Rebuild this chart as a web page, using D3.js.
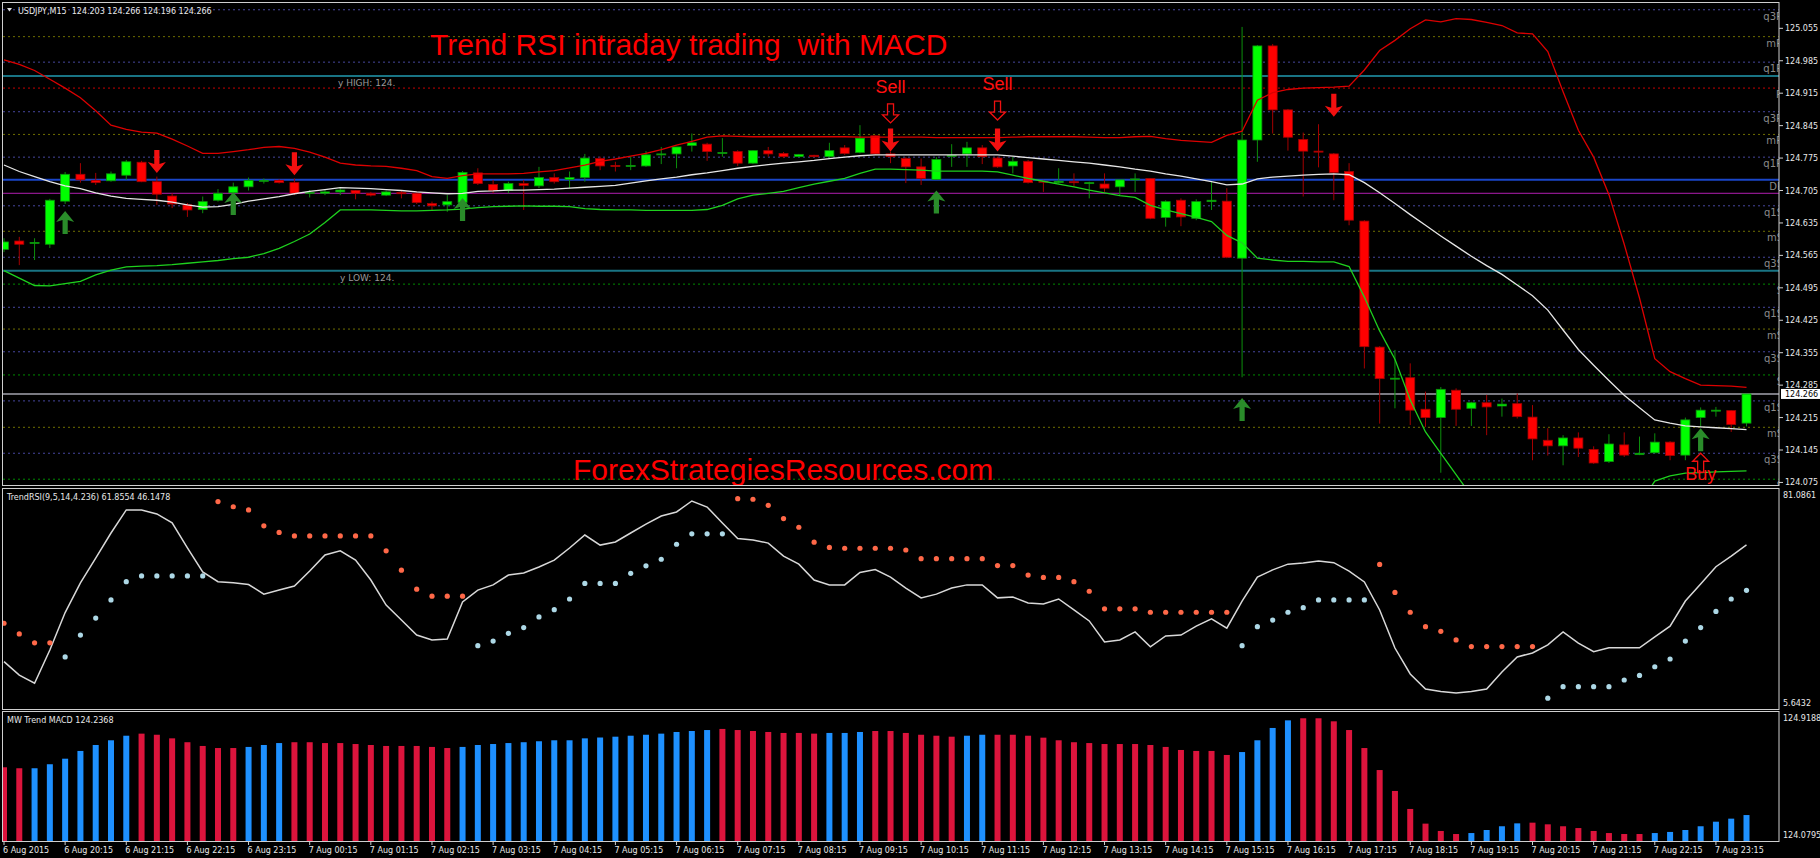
<!DOCTYPE html>
<html><head><meta charset="utf-8">
<script src="https://cdn.jsdelivr.net/npm/d3@7"></script>
<style>html,body{margin:0;padding:0;background:#000;overflow:hidden}</style>
</head><body>
<svg id="chart" width="1820" height="858"></svg>
<script>
// ---------------- DATA ----------------
const symbolTitle = "USDJPY,M15  124.203 124.266 124.196 124.266";
const chartTitle = "Trend RSI intraday trading  with MACD";
const watermark = "ForexStrategiesResources.com";
const rsiTitle = "TrendRSI(9,5,14,4.236) 61.8554 46.1478";
const macdTitle = "MW Trend MACD 124.2368";

const timeLabels = ["6 Aug 2015","6 Aug 20:15","6 Aug 21:15","6 Aug 22:15","6 Aug 23:15",
  "7 Aug 00:15","7 Aug 01:15","7 Aug 02:15","7 Aug 03:15","7 Aug 04:15","7 Aug 05:15","7 Aug 06:15",
  "7 Aug 07:15","7 Aug 08:15","7 Aug 09:15","7 Aug 10:15","7 Aug 11:15","7 Aug 12:15","7 Aug 13:15",
  "7 Aug 14:15","7 Aug 15:15","7 Aug 16:15","7 Aug 17:15","7 Aug 18:15","7 Aug 19:15","7 Aug 20:15",
  "7 Aug 21:15","7 Aug 22:15","7 Aug 23:15"];
const barsPerLabel = 4;

const priceTicks = [125.055,124.985,124.915,124.845,124.775,124.705,124.635,124.565,124.495,124.425,124.355,124.285,124.215,124.145,124.075];
const lastPrice = 124.266;
const rsiTicks = [81.0861, 5.6432];
const macdTicks = [124.9188, 124.0795];

const open = [124.578,124.596,124.591,124.589,124.682,124.740,124.727,124.726,124.738,124.766,
124.724,124.693,124.674,124.664,124.684,124.700,124.713,124.726,124.727,124.722,
124.700,124.699,124.702,124.705,124.699,124.695,124.701,124.699,124.677,124.674,
124.679,124.743,124.718,124.705,124.720,124.715,124.733,124.729,124.733,124.774,
124.759,124.757,124.758,124.783,124.784,124.802,124.805,124.786,124.789,124.764,
124.791,124.785,124.778,124.781,124.778,124.797,124.787,124.823,124.784,124.774,
124.756,124.729,124.780,124.784,124.797,124.775,124.758,124.768,124.725,124.722,
124.724,124.720,124.719,124.713,124.729,124.731,124.647,124.684,124.645,124.681,
124.682,124.559,124.814,125.017,124.879,124.815,124.790,124.784,124.746,124.639,
124.367,124.299,124.301,124.233,124.215,124.274,124.235,124.247,124.240,124.245,
124.216,124.166,124.154,124.171,124.146,124.120,124.156,124.135,124.139,124.162,
124.134,124.215,124.230,124.230,124.203];
const high = [124.602,124.605,124.602,124.687,124.745,124.764,124.743,124.746,124.771,124.769,
124.735,124.699,124.678,124.692,124.708,124.722,124.733,124.731,124.729,124.731,
124.706,124.706,124.710,124.706,124.702,124.705,124.706,124.702,124.681,124.695,
124.747,124.753,124.728,124.724,124.728,124.756,124.742,124.746,124.784,124.778,
124.767,124.778,124.790,124.799,124.799,124.828,124.808,124.818,124.792,124.792,
124.799,124.788,124.784,124.782,124.808,124.803,124.846,124.824,124.789,124.777,
124.774,124.777,124.805,124.810,124.803,124.778,124.778,124.771,124.728,124.753,
124.742,124.724,124.742,124.728,124.742,124.732,124.684,124.688,124.686,124.724,
124.710,125.058,125.019,125.021,124.881,124.830,124.848,124.786,124.764,124.641,
124.369,124.361,124.332,124.271,124.281,124.278,124.249,124.264,124.256,124.267,
124.242,124.192,124.177,124.183,124.153,124.179,124.183,124.174,124.181,124.164,
124.215,124.237,124.238,124.231,124.266];
const low = [124.572,124.544,124.555,124.581,124.676,124.722,124.717,124.724,124.728,124.723,
124.674,124.667,124.648,124.656,124.681,124.692,124.705,124.720,124.720,124.695,
124.690,124.695,124.695,124.686,124.692,124.693,124.688,124.676,124.663,124.659,
124.674,124.717,124.699,124.699,124.663,124.710,124.720,124.710,124.724,124.749,
124.746,124.749,124.756,124.762,124.753,124.789,124.769,124.778,124.758,124.762,
124.778,124.775,124.777,124.777,124.774,124.782,124.785,124.782,124.764,124.721,
124.717,124.728,124.756,124.756,124.762,124.754,124.742,124.720,124.702,124.720,
124.713,124.688,124.702,124.695,124.702,124.643,124.627,124.628,124.641,124.663,
124.559,124.302,124.767,124.828,124.791,124.692,124.755,124.684,124.630,124.321,
124.202,124.235,124.199,124.195,124.096,124.197,124.197,124.177,124.217,124.213,
124.123,124.133,124.112,124.130,124.115,124.117,124.130,124.134,124.138,124.123,
124.123,124.195,124.217,124.184,124.196];
const close = [124.594,124.589,124.593,124.684,124.740,124.728,124.722,124.741,124.767,124.724,
124.697,124.676,124.663,124.681,124.699,124.713,124.727,124.727,124.722,124.699,
124.701,124.702,124.706,124.699,124.695,124.702,124.698,124.679,124.672,124.681,
124.744,124.720,124.705,124.720,124.716,124.733,124.724,124.733,124.775,124.758,
124.758,124.759,124.782,124.784,124.799,124.808,124.789,124.787,124.764,124.791,
124.784,124.778,124.783,124.778,124.791,124.785,124.818,124.784,124.778,124.756,
124.731,124.772,124.781,124.797,124.778,124.756,124.768,124.722,124.724,124.725,
124.722,124.722,124.710,124.728,124.730,124.645,124.681,124.648,124.681,124.684,
124.561,124.814,125.017,124.879,124.820,124.790,124.789,124.744,124.641,124.368,
124.299,124.300,124.231,124.215,124.276,124.233,124.247,124.238,124.244,124.217,
124.169,124.154,124.171,124.149,124.117,124.158,124.134,124.138,124.162,124.133,
124.210,124.231,124.231,124.200,124.266];

const bandUpper = [124.987,124.977,124.964,124.945,124.926,124.905,124.877,124.846,124.837,124.831,
124.829,124.816,124.801,124.785,124.785,124.789,124.793,124.798,124.800,124.796,
124.788,124.777,124.764,124.760,124.758,124.757,124.753,124.748,124.735,124.731,
124.737,124.741,124.741,124.741,124.742,124.745,124.748,124.754,124.760,124.768,
124.773,124.779,124.785,124.793,124.803,124.811,124.820,124.823,124.822,124.821,
124.821,124.821,124.821,124.821,124.821,124.821,124.820,124.820,124.820,124.820,
124.820,124.819,124.819,124.819,124.819,124.819,124.820,124.821,124.821,124.821,
124.821,124.820,124.819,124.819,124.821,124.822,124.817,124.813,124.811,124.809,
124.824,124.833,124.900,124.916,124.923,124.926,124.927,124.928,124.930,124.965,
125.007,125.029,125.054,125.073,125.069,125.076,125.074,125.068,125.061,125.045,
125.043,125.005,124.918,124.835,124.777,124.696,124.589,124.473,124.342,124.314,
124.299,124.285,124.284,124.283,124.280];
const bandMiddle = [124.760,124.746,124.735,124.724,124.715,124.709,124.700,124.693,124.688,124.686,
124.684,124.680,124.674,124.669,124.670,124.675,124.682,124.687,124.692,124.698,
124.703,124.707,124.711,124.710,124.709,124.707,124.705,124.702,124.700,124.698,
124.699,124.703,124.704,124.706,124.706,124.707,124.708,124.710,124.712,124.714,
124.716,124.721,124.726,124.730,124.734,124.739,124.743,124.748,124.753,124.757,
124.761,124.764,124.767,124.770,124.774,124.777,124.780,124.782,124.782,124.782,
124.782,124.782,124.782,124.782,124.782,124.782,124.779,124.776,124.773,124.770,
124.767,124.764,124.760,124.756,124.751,124.747,124.741,124.736,124.730,124.724,
124.717,124.719,124.730,124.734,124.736,124.738,124.740,124.741,124.739,124.722,
124.700,124.677,124.653,124.630,124.607,124.585,124.563,124.543,124.524,124.501,
124.478,124.447,124.404,124.362,124.328,124.295,124.263,124.236,124.210,124.203,
124.197,124.195,124.193,124.191,124.189];
const bandLower = [124.532,124.516,124.500,124.499,124.504,124.509,124.523,124.533,124.540,124.542,
124.543,124.545,124.548,124.551,124.554,124.558,124.561,124.569,124.580,124.595,
124.611,124.636,124.663,124.663,124.663,124.662,124.661,124.661,124.662,124.663,
124.665,124.668,124.670,124.671,124.672,124.671,124.671,124.670,124.666,124.664,
124.663,124.663,124.662,124.662,124.662,124.662,124.664,124.673,124.687,124.695,
124.699,124.703,124.711,124.719,124.725,124.731,124.742,124.751,124.751,124.750,
124.749,124.747,124.747,124.747,124.747,124.745,124.738,124.731,124.725,124.719,
124.713,124.706,124.700,124.694,124.690,124.673,124.663,124.655,124.647,124.638,
124.608,124.592,124.559,124.555,124.552,124.552,124.551,124.551,124.541,124.475,
124.402,124.341,124.253,124.184,124.138,124.092,124.046,null,null,null,
null,null,null,null,null,null,null,124.026,124.078,124.089,
124.095,124.096,124.098,124.099,124.100];

// pivot levels (labels are shown cut off by the price scale, as in the terminal)
const levelPrices = [125.095,125.037,124.982,124.926,124.875,124.826,124.777,124.728,124.672,124.617,124.561,124.503,124.453,124.406,124.357,124.307,124.251,124.194,124.138,124.082];
const levelNames  = ["q3R","mR","q1R","R","q3R","mR","q1R","DP","q1S","mS","q3S","S","q1S","mS","q3S","S","q1S","mS","q3S","S"];
const levelKinds  = ["q","m","q","R","q","m","q","P","q","m","q","S","q","m","q","S","q","m","q","S"];
const yesterdayHigh = 124.952, yesterdayLow = 124.532, midLine = 124.699;
const yHighLabel = "y HIGH: 124.", yLowLabel = "y LOW: 124.";

// signals
const upArrowBars = [4,15,30,61,81,111], upArrowPrices = [124.661,124.702,124.689,124.705,124.257,124.192];
const dnArrowBars = [10,19,58,65,87], dnArrowPrices = [124.743,124.738,124.789,124.789,124.864];
const sellBars = [58,65], sellPrices = [124.851,124.857];
const buyBars = [111], buyPrices = [124.138];

// Trend RSI
const rsiLine = [21.4,16.7,13.9,25.4,38.4,48.7,57.3,66.0,74.0,74.0,
72.6,69.5,60.8,52.5,49.1,48.7,48.1,44.8,46.2,47.6,
52.8,58.4,59.8,56.6,49.7,41.0,35.8,30.6,28.9,29.2,
42.1,46.2,48.0,51.4,52.1,54.2,56.6,60.8,65.3,61.8,
62.9,66.0,69.1,71.9,73.3,77.1,75.0,69.5,64.1,63.6,
62.5,58.0,55.2,49.7,48.0,48.0,52.3,53.3,50.7,46.9,
43.5,44.8,46.9,48.0,48.0,43.5,43.8,41.7,41.4,43.1,
39.3,35.5,28.2,28.9,31.7,26.5,30.3,30.6,33.7,36.2,
33.0,42.4,50.7,53.2,55.2,55.6,56.3,55.7,52.8,49.0,
39.3,26.1,17.1,11.9,11.0,10.5,11.0,11.9,17.8,23.0,
24.4,27.2,31.7,27.8,24.8,26.2,26.2,26.2,30.0,33.7,
42.4,48.3,54.3,58.0,61.9];
const rsiDots = [34.7,31.0,27.9,27.9,23.0,30.6,36.5,42.8,49.1,51.1,
51.1,51.1,51.1,51.1,76.9,75.1,74.0,68.5,66.2,65.0,
65.0,65.0,65.0,65.0,65.0,59.8,53.1,46.5,44.1,44.1,
44.1,26.9,28.5,31.2,33.2,36.9,39.4,43.1,48.5,48.5,
48.5,52.0,54.6,56.9,62.1,65.7,65.7,65.7,77.9,77.7,
75.6,71.0,68.0,62.8,61.0,60.7,60.7,60.7,60.7,60.1,
57.1,57.1,57.1,57.1,57.1,54.7,54.7,51.4,50.6,50.6,
49.1,45.8,39.7,39.7,39.7,38.5,38.5,38.5,38.5,38.5,
38.5,26.9,33.5,35.8,38.5,40.1,42.8,42.8,42.8,42.8,
55.1,45.4,38.5,33.5,31.9,28.9,26.6,26.6,26.6,26.6,
26.6,8.7,12.7,12.7,12.7,12.7,15.0,16.6,19.6,22.3,
28.5,33.2,38.8,43.1,46.1];
// O = orange (down trend), B = light blue (up trend)
const rsiDotTrend = "OOOOBBBBBBBBBBOOOOOOOOOOOOOOOOOBBBBBBBBBBBBBBBBBOOOOOOOOOOOOOOOOOOOOOOOOOOOOOOOOOBBBBBBBBBOOOOOOOOOOOBBBBBBBBBBBBBB";

// MW Trend MACD
const macdValues = [124.565,124.558,124.558,124.587,124.627,124.683,124.726,124.760,124.793,124.808,
124.800,124.774,124.746,124.719,124.704,124.704,124.712,124.726,124.740,124.746,
124.746,124.740,124.740,124.733,124.726,124.719,124.719,124.719,124.712,124.704,
124.712,124.726,124.733,124.740,124.746,124.753,124.760,124.760,124.774,124.780,
124.786,124.793,124.800,124.808,124.820,124.827,124.834,124.842,124.834,124.827,
124.820,124.813,124.813,124.808,124.813,124.813,124.820,124.827,124.827,124.813,
124.800,124.793,124.786,124.793,124.800,124.800,124.800,124.793,124.779,124.760,
124.746,124.740,124.733,124.733,124.733,124.726,124.712,124.690,124.683,124.683,
124.654,124.675,124.760,124.849,124.904,124.919,124.919,124.897,124.834,124.704,
124.545,124.394,124.264,124.158,124.105,124.083,124.090,124.112,124.139,124.160,
124.165,124.153,124.139,124.126,124.105,124.090,124.083,124.083,124.090,124.098,
124.112,124.139,124.172,124.194,124.220];
// R = falling (crimson), B = rising (blue)
const macdTrend = "RRBBBBBBBRRRRRRRBBBRRRRRRRRRRRBBBBBBBBBBBBBBBBBRRRRRRRBBBRRRRRRBBRRRRRRRRRRRRRRRRBBBBRRRRRRRRRRRBBBBRRRRRRRRBBBBBBB";

// ---------------- DRAW ----------------
const W = 1820, H = 858;
const plotL = 3, plotR = 1779;
const mainP = {top: 3, bottom: 485}, rsiP = {top: 489, bottom: 709}, macdP = {top: 712, bottom: 841};
const n = close.length;

const svg = d3.select("#chart");
svg.append("rect").attr("width", W).attr("height", H).attr("fill", "#000");

const x = d3.scaleLinear().domain([0, n - 1]).range([4, 1746.5]);
const y = d3.scaleLinear().domain([124.0695, 125.1161]).range([485, 0]);
const yR = d3.scaleLinear().domain([5.6432, 81.0861]).range([707, 489.5]);
const yM = d3.scaleLinear().domain([124.0795, 124.9188]).range([834.5, 718.3]);

const defs = svg.append("defs");
function addClip(id, p) {
  defs.append("clipPath").attr("id", id).append("rect")
    .attr("x", plotL).attr("y", p.top).attr("width", plotR - plotL).attr("height", p.bottom - p.top);
}
addClip("cMain", mainP); addClip("cRsi", rsiP); addClip("cMacd", macdP);

const FONT_S = "'DejaVu Sans', Verdana, sans-serif";
const FONT_A = "'Liberation Sans', Arial, sans-serif";

// ---- main panel ----
const gm = svg.append("g").attr("clip-path", "url(#cMain)");
const kindStyle = {
  q: {c: "#46469e", w: 1, d: "2,3"},
  m: {c: "#6e6e00", w: 1, d: "2,3"},
  R: {c: "#c40000", w: 1, d: "2,3"},
  S: {c: "#008a00", w: 1, d: "2,3"},
  P: {c: "#1a46c8", w: 2, d: null}
};
levelPrices.forEach((p, i) => {
  const st = kindStyle[levelKinds[i]];
  gm.append("line").attr("x1", plotL).attr("x2", plotR).attr("y1", y(p)).attr("y2", y(p))
    .attr("stroke", st.c).attr("stroke-width", st.w).attr("stroke-dasharray", st.d);
  gm.append("text").attr("x", 1783).attr("y", y(p) + 10).attr("text-anchor", "end")
    .attr("fill", "#8a8a8a").attr("font-family", FONT_S).attr("font-size", 10).text(levelNames[i]);
});
[yesterdayHigh, yesterdayLow].forEach(p => {
  gm.append("line").attr("x1", plotL).attr("x2", plotR).attr("y1", y(p)).attr("y2", y(p))
    .attr("stroke", "#197484").attr("stroke-width", 2);
});
gm.append("line").attr("x1", plotL).attr("x2", plotR).attr("y1", y(midLine)).attr("y2", y(midLine))
  .attr("stroke", "#b01eb0").attr("stroke-width", 1);
gm.append("text").attr("x", 338).attr("y", y(yesterdayHigh) + 10).attr("fill", "#9a9a9a")
  .attr("font-family", FONT_S).attr("font-size", 9).text(yHighLabel);
gm.append("text").attr("x", 340).attr("y", y(yesterdayLow) + 10).attr("fill", "#9a9a9a")
  .attr("font-family", FONT_S).attr("font-size", 9).text(yLowLabel);

// current price line
gm.append("line").attr("x1", plotL).attr("x2", plotR).attr("y1", y(lastPrice)).attr("y2", y(lastPrice))
  .attr("stroke", "#7a7a82").attr("stroke-width", 2);

// candles
const idx = d3.range(n);
const cg = gm.append("g");
idx.forEach(i => {
  const bull = close[i] >= open[i];
  const wick = bull ? "#0c8f0c" : "#a40000";
  cg.append("line").attr("x1", x(i)).attr("x2", x(i)).attr("y1", y(high[i])).attr("y2", y(low[i]))
    .attr("stroke", wick).attr("stroke-width", 1);
  const y0 = Math.min(y(open[i]), y(close[i]));
  const h = Math.max(1, Math.abs(y(open[i]) - y(close[i])));
  cg.append("rect").attr("x", x(i) - 4.5).attr("y", y0).attr("width", 9).attr("height", h)
    .attr("fill", bull ? "#00ff00" : "#ff0000").attr("stroke", wick).attr("stroke-width", 0.8);
});

// bands
function bandLine(arr, color, w) {
  gm.append("path").datum(arr)
    .attr("d", d3.line().defined(v => v != null).x((v, i) => x(i)).y(v => y(v)))
    .attr("fill", "none").attr("stroke", color).attr("stroke-width", w);
}
bandLine(bandUpper, "#dc0000", 1.3);
bandLine(bandMiddle, "#e6e6e6", 1.3);
bandLine(bandLower, "#1ed01e", 1.3);

// arrows
function solidArrow(cx, tip, dir) { // dir: -1 up (tip at top), 1 down (tip at bottom)
  const hw = 9, hh = 11, sw = 2.6, L = 23, s = -dir;
  return `M${cx},${tip} L${cx + hw},${tip + s * hh} L${cx + sw},${tip + s * (hh - 2)} L${cx + sw},${tip + s * L} L${cx - sw},${tip + s * L} L${cx - sw},${tip + s * (hh - 2)} L${cx - hw},${tip + s * hh} Z`;
}
function hollowArrow(cx, tip, dir) {
  const hw = 8, hh = 8, sw = 3, L = 19, s = -dir;
  return `M${cx},${tip} L${cx + hw},${tip + s * hh} L${cx + sw},${tip + s * hh} L${cx + sw},${tip + s * L} L${cx - sw},${tip + s * L} L${cx - sw},${tip + s * hh} L${cx - hw},${tip + s * hh} Z`;
}
upArrowBars.forEach((b, k) => gm.append("path").attr("d", solidArrow(x(b), y(upArrowPrices[k]), -1)).attr("fill", "#2a8c2a"));
dnArrowBars.forEach((b, k) => gm.append("path").attr("d", solidArrow(x(b), y(dnArrowPrices[k]), 1)).attr("fill", "#f21010"));
sellBars.forEach((b, k) => {
  const t = y(sellPrices[k]);
  gm.append("path").attr("d", hollowArrow(x(b), t, 1)).attr("fill", "none").attr("stroke", "#f01010").attr("stroke-width", 1.3);
  gm.append("text").attr("x", x(b)).attr("y", t - 30).attr("text-anchor", "middle").attr("fill", "#ff1010")
    .attr("font-family", FONT_A).attr("font-size", 18).text("Sell");
});
buyBars.forEach((b, k) => {
  const t = y(buyPrices[k]);
  gm.append("path").attr("d", hollowArrow(x(b), t, -1)).attr("fill", "none").attr("stroke", "#f01010").attr("stroke-width", 1.3);
  gm.append("text").attr("x", x(b)).attr("y", t + 27).attr("text-anchor", "middle").attr("fill", "#ff1010")
    .attr("font-family", FONT_A).attr("font-size", 18).text("Buy");
});

// titles
gm.append("text").attr("x", 430).attr("y", 55).attr("fill", "#ff0000").attr("font-family", FONT_A)
  .attr("font-size", 30).style("white-space", "pre").attr("xml:space", "preserve").text(chartTitle);
gm.append("text").attr("x", 573).attr("y", 480).attr("fill", "#ff0000").attr("font-family", FONT_A)
  .attr("font-size", 30).text(watermark);
svg.append("path").attr("d", "M7,8 L12,8 L9.5,11.5 Z").attr("fill", "#e0e0e0");
svg.append("text").attr("x", 18).attr("y", 13.5).attr("fill", "#e8e8e8").attr("font-family", FONT_S)
  .attr("font-size", 8).style("white-space", "pre").attr("xml:space", "preserve").text(symbolTitle);

// ---- RSI panel ----
const gr = svg.append("g").attr("clip-path", "url(#cRsi)");
gr.append("path").datum(rsiLine)
  .attr("d", d3.line().x((v, i) => x(i)).y(v => yR(v)))
  .attr("fill", "none").attr("stroke", "#d8d8d8").attr("stroke-width", 1.5);
gr.selectAll("circle").data(rsiDots).join("circle")
  .attr("cx", (v, i) => x(i)).attr("cy", v => yR(v)).attr("r", 2.6)
  .attr("fill", (v, i) => rsiDotTrend[i] === "O" ? "#ff6848" : "#add8e6");
svg.append("text").attr("x", 7).attr("y", 500).attr("fill", "#e8e8e8").attr("font-family", FONT_S)
  .attr("font-size", 8).text(rsiTitle);

// ---- MACD panel ----
const gmc = svg.append("g").attr("clip-path", "url(#cMacd)");
gmc.selectAll("rect").data(macdValues).join("rect")
  .attr("x", (v, i) => x(i) - 3).attr("width", 6)
  .attr("y", v => yM(v)).attr("height", v => macdP.bottom - yM(v))
  .attr("fill", (v, i) => macdTrend[i] === "R" ? "#dc143c" : "#1e90ff");
svg.append("text").attr("x", 7).attr("y", 723).attr("fill", "#e8e8e8").attr("font-family", FONT_S)
  .attr("font-size", 8).text(macdTitle);

// ---- frames ----
[[2.5, 485.5], [488.5, 709.5], [711.5, 841.5]].forEach(([t, b]) => {
  svg.append("rect").attr("x", 2.5).attr("y", t).attr("width", plotR - 2.5).attr("height", b - t)
    .attr("fill", "none").attr("stroke", "#cfcfcf").attr("stroke-width", 1);
});

// ---- price axis ----
priceTicks.forEach(p => {
  svg.append("line").attr("x1", plotR).attr("x2", plotR + 4).attr("y1", y(p)).attr("y2", y(p)).attr("stroke", "#cfcfcf");
  svg.append("text").attr("x", 1785).attr("y", y(p) + 3).attr("fill", "#e8e8e8").attr("font-family", FONT_S)
    .attr("font-size", 8).text(p.toFixed(3));
});
svg.append("rect").attr("x", 1781).attr("y", y(lastPrice) - 5).attr("width", 39).attr("height", 10).attr("fill", "#ffffff");
svg.append("text").attr("x", 1785).attr("y", y(lastPrice) + 3).attr("fill", "#000").attr("font-family", FONT_S)
  .attr("font-size", 8).text(lastPrice.toFixed(3));
svg.append("text").attr("x", 1783).attr("y", yR(rsiTicks[0]) + 8.5).attr("fill", "#e8e8e8").attr("font-family", FONT_S).attr("font-size", 8).text(rsiTicks[0].toFixed(4));
svg.append("text").attr("x", 1783).attr("y", yR(rsiTicks[1]) - 1.5).attr("fill", "#e8e8e8").attr("font-family", FONT_S).attr("font-size", 8).text(rsiTicks[1].toFixed(4));
macdTicks.forEach(v => {
  svg.append("text").attr("x", 1783).attr("y", yM(v) + 3).attr("fill", "#e8e8e8").attr("font-family", FONT_S)
    .attr("font-size", 8).text(v.toFixed(4));
});

// ---- time axis ----
timeLabels.forEach((lab, k) => {
  const b = k * barsPerLabel;
  svg.append("line").attr("x1", x(b)).attr("x2", x(b)).attr("y1", 841).attr("y2", 845).attr("stroke", "#cfcfcf");
  svg.append("text").attr("x", x(b) - 1).attr("y", 853).attr("fill", "#e8e8e8").attr("font-family", FONT_S)
    .attr("font-size", 8).text(lab);
});
</script>
</body></html>
